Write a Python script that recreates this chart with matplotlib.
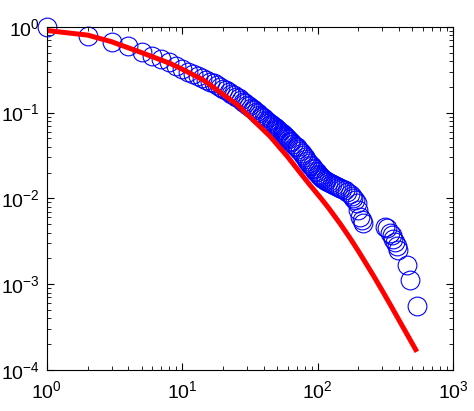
import matplotlib
matplotlib.use("Agg")
import matplotlib.pyplot as plt
import numpy as np

plt.rcParams['font.family'] = ['Liberation Sans', 'DejaVu Sans']
plt.rcParams['mathtext.default'] = 'regular'

# observed values (blue circles)
obs_x = list(range(1, 61)) + list(range(62, 101, 2)) + \
    [102, 104, 106, 108, 110, 113, 116, 120, 124, 128, 132, 136, 140, 146,
     152, 158, 165, 172, 178, 183, 188, 194, 199, 206, 211, 217,
     315, 325, 343, 352, 362, 373, 384, 394, 455, 481, 545]
obs_y = [1.0, 0.79, 0.67, 0.59, 0.515, 0.46, 0.42, 0.385, 0.35, 0.32,
         0.30, 0.285, 0.27, 0.255, 0.24, 0.23, 0.22, 0.21, 0.20, 0.19,
         0.182, 0.174, 0.166, 0.159, 0.152, 0.146, 0.140, 0.134, 0.129, 0.124,
         0.119, 0.114, 0.110, 0.106, 0.102, 0.098, 0.095, 0.092, 0.089, 0.086,
         0.0823, 0.0798, 0.0774, 0.0751, 0.0729, 0.0709, 0.0689, 0.0671, 0.0653, 0.0636,
         0.0619, 0.0603, 0.0587, 0.0572, 0.0558, 0.0544, 0.0531, 0.0518, 0.0506, 0.0494,
         0.0471, 0.0450, 0.0430, 0.0411, 0.0393, 0.0373, 0.0354, 0.0336, 0.0318, 0.0302,
         0.0287, 0.0273, 0.0260, 0.0248, 0.0237, 0.0227, 0.0218, 0.0210, 0.0202, 0.0195,
         0.0189, 0.0183, 0.0178, 0.0173, 0.0169, 0.0165, 0.0161, 0.0156, 0.0151, 0.0147,
         0.0143, 0.0139, 0.0136, 0.0132, 0.0128, 0.0124, 0.0119, 0.0113, 0.0107, 0.0101,
         0.0095, 0.0088, 0.0073, 0.0061, 0.0056, 0.0051,
         0.0047, 0.0045, 0.0040, 0.0037, 0.0034, 0.0031, 0.0028, 0.0025, 0.00168, 0.00112, 0.00056]

# fitted curve (red)
fit_x = [1, 2, 3, 5, 8.1, 10, 14.3, 20, 25.2, 33.4, 44.4, 60, 74, 88, 104.2, 120,
         146.5, 173.5, 200, 230, 260, 305, 350, 407, 540]
fit_y = [0.905, 0.80, 0.67, 0.50, 0.375, 0.32, 0.24, 0.163, 0.125, 0.0817, 0.053,
         0.0305, 0.0200, 0.0142, 0.0103, 0.00777, 0.00506, 0.00343, 0.00242, 0.00169,
         0.00123, 0.00080, 0.000548, 0.000359, 0.000163]

fig = plt.figure(figsize=(4.74, 4.11), dpi=100)
ax = fig.add_axes([0.099, 0.0998, 0.857, 0.835])

ax.plot(obs_x, obs_y, 'o', mfc='none', mec='blue', ms=13.5, mew=0.8, clip_on=False)
ax.plot(fit_x, fit_y, '-', color='red', lw=3.6, solid_capstyle='butt')

ax.set_xscale('log')
ax.set_yscale('log')
ax.set_xlim(1, 1000)
ax.set_ylim(1e-4, 1)

ax.tick_params(which='both', direction='in', top=True, right=True, labelsize=14, pad=5)
ax.tick_params(axis='x', pad=7)
ax.tick_params(which='major', length=5, width=0.8)
ax.tick_params(which='minor', length=3, width=0.6)
for s in ax.spines.values():
    s.set_linewidth(0.8)

fig.savefig('out.png', dpi=100)
